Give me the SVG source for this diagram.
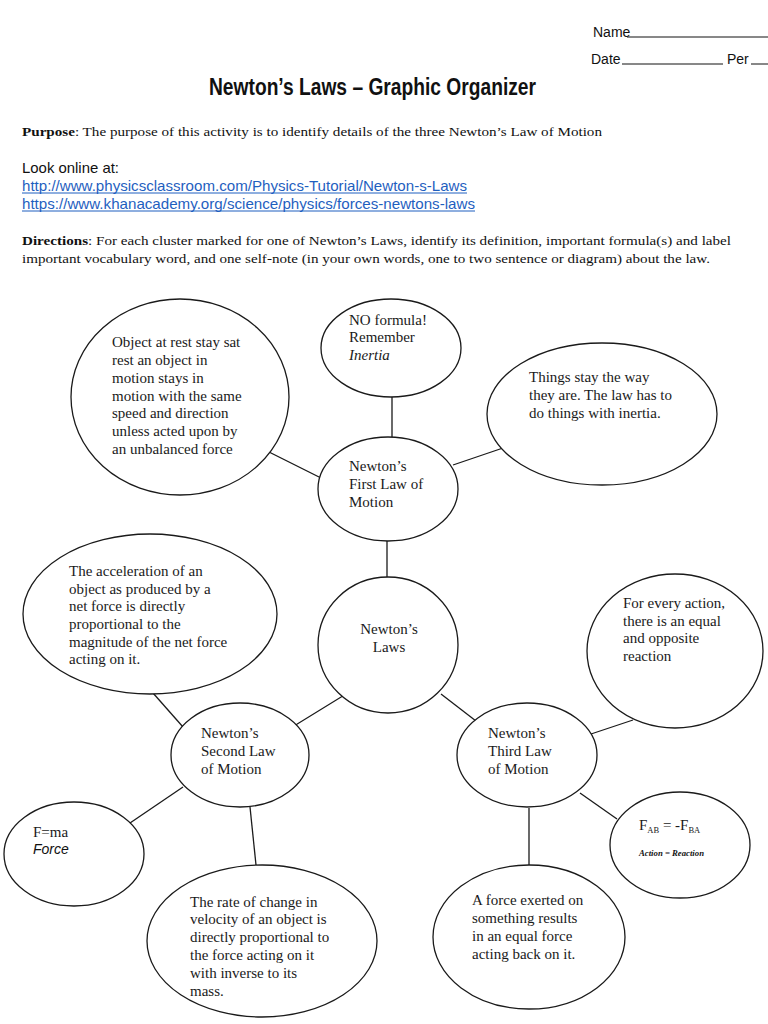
<svg xmlns="http://www.w3.org/2000/svg" width="768" height="1024" viewBox="0 0 768 1024">
<style>
.bg{fill:#ffffff}
.node{fill:#ffffff;stroke:#1a1a1a;stroke-width:1.3}
.conn line{stroke:#1a1a1a;stroke-width:1.3}
.s{font-family:"Liberation Serif","Times New Roman",serif;font-size:15px;fill:#1a1a1a}
.sans{font-family:"Liberation Sans",Arial,sans-serif;fill:#111}
.hdr{font-size:14px}
.body{font-family:"Liberation Serif","Times New Roman",serif;font-size:13.5px;fill:#111}
.link{font-family:"Liberation Sans",Arial,sans-serif;font-size:14.5px;fill:#1f5fbf}
.it{font-style:italic}
</style>
<rect class="bg" x="0" y="0" width="768" height="1024"/>

<g id="header">
<text class="sans hdr" x="593" y="37">Name</text>
<line x1="627" y1="37" x2="768" y2="37" stroke="#111" stroke-width="1"/>
<text class="sans hdr" x="591" y="64">Date</text>
<line x1="622" y1="64" x2="723" y2="64" stroke="#111" stroke-width="1"/>
<text class="sans hdr" x="727" y="64">Per</text>
<line x1="751" y1="64" x2="768" y2="64" stroke="#111" stroke-width="1"/>
</g>

<g id="title">
<text class="sans" x="209" y="95" font-size="23" font-weight="bold" textLength="327" lengthAdjust="spacingAndGlyphs">Newton’s Laws – Graphic Organizer</text>
</g>

<g id="intro">
<text class="body" x="22" y="136" textLength="580" lengthAdjust="spacingAndGlyphs"><tspan font-weight="bold">Purpose</tspan>: The purpose of this activity is to identify details of the three Newton’s Law of Motion</text>
<text class="sans" x="22" y="173" font-size="14.5" textLength="97" lengthAdjust="spacingAndGlyphs">Look online at:</text>
<text class="link" x="22" y="191" textLength="445" lengthAdjust="spacingAndGlyphs">http://www.physicsclassroom.com/Physics-Tutorial/Newton-s-Laws</text>
<line x1="22" y1="193" x2="467" y2="193" stroke="#1f5fbf" stroke-width="1"/>
<text class="link" x="22" y="209" textLength="453" lengthAdjust="spacingAndGlyphs">https://www.khanacademy.org/science/physics/forces-newtons-laws</text>
<line x1="22" y1="211" x2="475" y2="211" stroke="#1f5fbf" stroke-width="1"/>
<text class="body" x="22" y="245" textLength="709" lengthAdjust="spacingAndGlyphs"><tspan font-weight="bold">Directions</tspan>: For each cluster marked for one of Newton’s Laws, identify its definition, important formula(s) and label</text>
<text class="body" x="22" y="263" textLength="688" lengthAdjust="spacingAndGlyphs">important vocabulary word, and one self-note (in your own words, one to two sentence or diagram) about the law.</text>
</g>

<g id="connectors" class="conn">
<line x1="392" y1="397" x2="392" y2="437"/>
<line x1="269" y1="452" x2="321" y2="478"/>
<line x1="503" y1="448" x2="453" y2="465"/>
<line x1="387" y1="541" x2="387" y2="577"/>
<line x1="346" y1="694" x2="294" y2="726"/>
<line x1="441" y1="694" x2="476" y2="721"/>
<line x1="153" y1="693" x2="183" y2="727"/>
<line x1="183" y1="787" x2="130" y2="823"/>
<line x1="250" y1="807" x2="256" y2="865"/>
<line x1="633" y1="720" x2="588" y2="735"/>
<line x1="580" y1="793" x2="617" y2="819"/>
<line x1="529" y1="808" x2="529" y2="865"/>
</g>

<g id="node-first-def">
<ellipse class="node" cx="180" cy="397" rx="109" ry="98"/>
<text class="s"><tspan x="112" y="347">Object at rest stay sat</tspan><tspan x="112" y="365">rest an object in</tspan><tspan x="112" y="383">motion stays in</tspan><tspan x="112" y="401">motion with the same</tspan><tspan x="112" y="418">speed and direction</tspan><tspan x="112" y="436">unless acted upon by</tspan><tspan x="112" y="454">an unbalanced force</tspan></text>
</g>

<g id="node-first-formula">
<ellipse class="node" cx="391" cy="348" rx="70" ry="49"/>
<text class="s"><tspan x="349" y="325">NO formula!</tspan><tspan x="349" y="342">Remember</tspan><tspan x="349" y="360" class="it">Inertia</tspan></text>
</g>

<g id="node-first-note">
<ellipse class="node" cx="602" cy="414" rx="115" ry="71"/>
<text class="s"><tspan x="529" y="382">Things stay the way</tspan><tspan x="529" y="400">they are. The law has to</tspan><tspan x="529" y="418">do things with inertia.</tspan></text>
</g>

<g id="node-first">
<ellipse class="node" cx="388" cy="489" rx="70" ry="52"/>
<text class="s"><tspan x="349" y="471">Newton’s</tspan><tspan x="349" y="489">First Law of</tspan><tspan x="349" y="507">Motion</tspan></text>
</g>

<g id="node-laws">
<ellipse class="node" cx="388" cy="645" rx="70" ry="68"/>
<text class="s" text-anchor="middle"><tspan x="389" y="634">Newton’s</tspan><tspan x="389" y="652">Laws</tspan></text>
</g>

<g id="node-second-def">
<ellipse class="node" cx="150" cy="614" rx="127" ry="80"/>
<text class="s"><tspan x="69" y="576">The acceleration of an</tspan><tspan x="69" y="594">object as produced by a</tspan><tspan x="69" y="611">net force is directly</tspan><tspan x="69" y="629">proportional to the</tspan><tspan x="69" y="647">magnitude of the net force</tspan><tspan x="69" y="664">acting on it.</tspan></text>
</g>

<g id="node-third-def">
<ellipse class="node" cx="675" cy="651" rx="88" ry="77"/>
<text class="s"><tspan x="623" y="608">For every action,</tspan><tspan x="623" y="626">there is an equal</tspan><tspan x="623" y="643">and opposite</tspan><tspan x="623" y="661">reaction</tspan></text>
</g>

<g id="node-second">
<ellipse class="node" cx="240" cy="755" rx="69" ry="52"/>
<text class="s"><tspan x="201" y="738">Newton’s</tspan><tspan x="201" y="756">Second Law</tspan><tspan x="201" y="774">of Motion</tspan></text>
</g>

<g id="node-third">
<ellipse class="node" cx="527" cy="755" rx="70" ry="52"/>
<text class="s"><tspan x="488" y="738">Newton’s</tspan><tspan x="488" y="756">Third Law</tspan><tspan x="488" y="774">of Motion</tspan></text>
</g>

<g id="node-second-formula">
<ellipse class="node" cx="74" cy="854" rx="70" ry="52"/>
<text class="s"><tspan x="33" y="837">F=ma</tspan></text>
<text class="sans it" x="33" y="854" font-size="14">Force</text>
</g>

<g id="node-second-note">
<ellipse class="node" cx="262" cy="941" rx="115" ry="76"/>
<text class="s"><tspan x="190" y="907">The rate of change in</tspan><tspan x="190" y="924">velocity of an object is</tspan><tspan x="190" y="942">directly proportional to</tspan><tspan x="190" y="960">the force acting on it</tspan><tspan x="190" y="978">with inverse to its</tspan><tspan x="190" y="996">mass.</tspan></text>
</g>

<g id="node-third-formula">
<ellipse class="node" cx="680" cy="845" rx="70" ry="53"/>
<text class="s" x="639" y="830" font-size="16">F<tspan font-size="8.5" dy="3">AB</tspan><tspan dy="-3"> = -F</tspan><tspan font-size="8.5" dy="3">BA</tspan></text>
<text x="639" y="856" font-family="'Liberation Serif','Times New Roman',serif" font-size="7.5" font-weight="bold" font-style="italic" fill="#111" textLength="65" lengthAdjust="spacingAndGlyphs">Action = Reaction</text>
</g>

<g id="node-third-note">
<ellipse class="node" cx="529" cy="937" rx="96" ry="72"/>
<text class="s"><tspan x="472" y="905">A force exerted on</tspan><tspan x="472" y="923">something results</tspan><tspan x="472" y="941">in an equal force</tspan><tspan x="472" y="959">acting back on it.</tspan></text>
</g>
</svg>
